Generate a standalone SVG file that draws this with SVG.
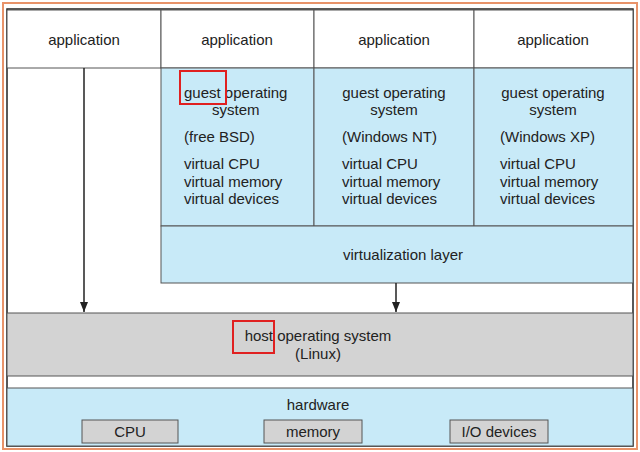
<svg xmlns="http://www.w3.org/2000/svg" width="640" height="452" viewBox="0 0 640 452">
<style>
text{font-family:"Liberation Sans",Arial,sans-serif;font-size:15px;fill:#222}
.c{text-anchor:middle}
.w{fill:#fff;stroke:#555;stroke-width:1}
.b{fill:#c8eaf8;stroke:#555;stroke-width:1}
.g{fill:#d3d3d3;stroke:#555;stroke-width:1}
.r{fill:none;stroke:#e02020;stroke-width:2}
</style>
<defs><marker id="ah" viewBox="0 0 10 10" refX="10" refY="5" markerWidth="7" markerHeight="7" orient="auto"><path d="M0,1 L10,5 L0,9 z" fill="#222"/></marker></defs>
<rect x="0" y="0" width="640" height="452" fill="#fff"/>
<rect x="3" y="3" width="634" height="446" fill="#fff" stroke="#e8936a" stroke-width="2"/>
<rect x="7" y="9" width="626" height="437" fill="#fff" stroke="#222" stroke-width="1.5"/>
<g id="app1"><rect class="w" x="7" y="10" width="154" height="58"/><text class="c" x="84" y="45">application</text></g>
<g id="app2"><rect class="w" x="161" y="10" width="153" height="58"/><text class="c" x="237" y="45">application</text></g>
<g id="app3"><rect class="w" x="314" y="10" width="160" height="58"/><text class="c" x="394" y="45">application</text></g>
<g id="app4"><rect class="w" x="474" y="10" width="159" height="58"/><text class="c" x="553" y="45">application</text></g>
<g id="guest1"><rect class="b" x="161" y="68" width="153" height="158"/>
<text x="184" y="98">guest operating</text><text x="212" y="115">system</text><text x="184" y="142">(free BSD)</text>
<text x="184" y="169">virtual CPU</text><text x="184" y="187">virtual memory</text><text x="184" y="204">virtual devices</text>
<rect class="r" x="180" y="71" width="46" height="33"/></g>
<g id="guest2"><rect class="b" x="314" y="68" width="160" height="158"/>
<text class="c" x="394" y="98">guest operating</text><text class="c" x="394" y="115">system</text><text x="342" y="142">(Windows NT)</text>
<text x="342" y="169">virtual CPU</text><text x="342" y="187">virtual memory</text><text x="342" y="204">virtual devices</text></g>
<g id="guest3"><rect class="b" x="474" y="68" width="159" height="158"/>
<text class="c" x="553" y="98">guest operating</text><text class="c" x="553" y="115">system</text><text x="500" y="142">(Windows XP)</text>
<text x="500" y="169">virtual CPU</text><text x="500" y="187">virtual memory</text><text x="500" y="204">virtual devices</text></g>
<g id="vlayer"><rect class="b" x="161" y="226" width="472" height="57"/><text class="c" x="403" y="260">virtualization layer</text></g>
<g id="host"><rect class="g" x="7" y="313" width="626" height="63"/>
<text class="c" x="318" y="341">host operating system</text><text class="c" x="318" y="359">(Linux)</text>
<rect class="r" x="233" y="321" width="41" height="32"/></g>
<g id="hw"><rect class="b" x="7" y="388" width="626" height="58"/><text class="c" x="318" y="410">hardware</text>
<rect class="g" x="82" y="420" width="96" height="23"/><text class="c" x="130" y="437">CPU</text>
<rect class="g" x="264" y="420" width="98" height="23"/><text class="c" x="313" y="437">memory</text>
<rect class="g" x="450" y="420" width="98" height="23"/><text class="c" x="499" y="437">I/O devices</text></g>
<g id="connectors" stroke="#222" stroke-width="1.5">
<line x1="84" y1="68" x2="84" y2="312" marker-end="url(#ah)"/>
<line x1="396" y1="283" x2="396" y2="312" marker-end="url(#ah)"/>
</g>
</svg>
